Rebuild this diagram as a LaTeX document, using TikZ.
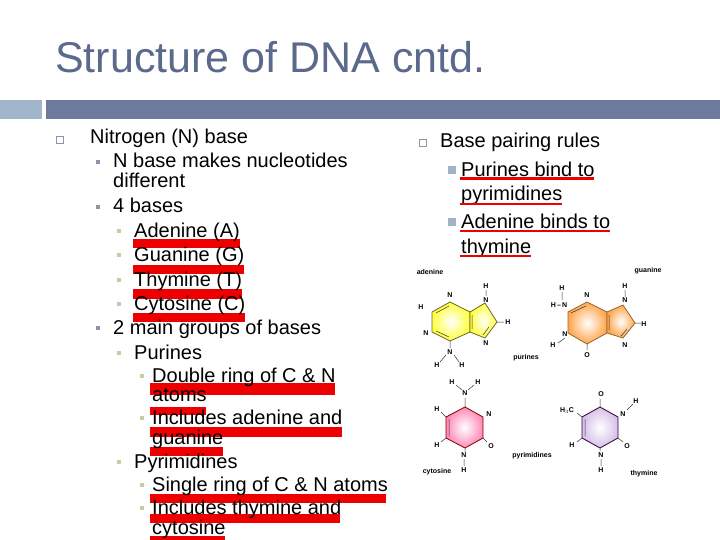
\documentclass[tikz,border=0pt]{standalone}
\usepackage{fontspec}
\setmainfont{Liberation Sans}
\usetikzlibrary{calc}
\definecolor{titlec}{HTML}{5B6A8C}
\definecolor{barlight}{HTML}{A2B6CB}
\definecolor{bardark}{HTML}{6E7A9C}
\definecolor{hl}{HTML}{EE0000}
\definecolor{bulg}{HTML}{8A96A8}
\definecolor{bult}{HTML}{CFC8A8}
\definecolor{bulr}{HTML}{A3B3C6}
\tikzset{
 txt/.style={anchor=base west,inner sep=0pt,font=\fontsize{20}{20}\selectfont},
 mol/.style={inner sep=0pt,font=\fontsize{7}{7}\selectfont\bfseries},
 lab/.style={inner sep=0pt,font=\fontsize{7}{7}\selectfont\bfseries},
 bar/.style={fill=hl,draw=none},
 uline/.style={draw=hl,line width=2.5pt},
 b2/.style={fill=bulg,draw=none,minimum size=4pt,inner sep=0pt},
 b3/.style={fill=bult,draw=none,minimum size=4pt,inner sep=0pt},
 bond/.style={draw=black!80,line width=0.5pt},
}
\begin{document}
\begin{tikzpicture}[x=1pt,y=-1pt]
\useasboundingbox[fill=white] (0,0) rectangle (720,540);
\node[anchor=west,inner sep=0pt,text=titlec,font=\fontsize{43}{43}\selectfont] (title) at (55,57) {Structure of DNA cntd.};
\fill[barlight] (0,100) rectangle (42,119);
\fill[bardark] (46,100) rectangle (720,119);
% red highlight bars (left)
\fill[hl] (133,239) rectangle (240,248);
\fill[hl] (133,265) rectangle (244,274);
\fill[hl] (133,289) rectangle (242,299);
\fill[hl] (133,313) rectangle (245,322);
\fill[hl] (150,383) rectangle (335,395);
\fill[hl] (150,407) rectangle (206,415);
\fill[hl] (150,427) rectangle (342,437);
\fill[hl] (150,447) rectangle (223,456);
\fill[hl] (150,494) rectangle (386,503);
\fill[hl] (150,514) rectangle (340,523);
\fill[hl] (150,536) rectangle (225,540);
% left text
\draw[bulg,line width=0.6pt] (56,136) rectangle (63,143);
\node[txt] (t1) at (90,144) {Nitrogen (N) base};
\node[b2] (bb1) at (98,162) {};
\node[txt] (t2) at (113,168) {N base makes nucleotides};
\node[txt] (t3) at (113,188) {different};
\node[b2] (bb2) at (98,207) {};
\node[txt] (t4) at (113,213) {4 bases};
\node[b3] (c1) at (119,231) {};
\node[txt] (t5) at (134,237) {Adenine (A)};
\node[b3] (c2) at (119,255) {};
\node[txt] (t6) at (134,261) {Guanine (G)};
\node[b3] (c3) at (119,280) {};
\node[txt] (t7) at (134,286) {Thymine (T)};
\node[b3] (c4) at (119,304) {};
\node[txt] (t8) at (134,310) {Cytosine (C)};
\node[b2] (bb3) at (98,328) {};
\node[txt] (t9) at (113,334) {2 main groups of bases};
\node[b3] (c5) at (119,353) {};
\node[txt] (t10) at (134,359) {Purines};
\node[b3] (d1) at (142,376) {};
\node[txt] (t11) at (152,382) {Double ring of C \& N};
\node[txt] (t12) at (152,401) {atoms};
\node[b3] (d2) at (142,418) {};
\node[txt] (t13) at (152,424) {Includes adenine and};
\node[txt] (t14) at (152,444) {guanine};
\node[b3] (c6) at (119,462) {};
\node[txt] (t15) at (134,468) {Pyrimidines};
\node[b3] (d3) at (142,485) {};
\node[txt] (t16) at (152,491) {Single ring of C \& N atoms};
\node[b3] (d4) at (142,508) {};
\node[txt] (t17) at (152,514) {Includes thymine and};
\node[txt] (t18) at (152,534) {cytosine};
% right text
\draw[bulg,line width=0.6pt] (419,139) rectangle (426,146);
\node[txt] (r1) at (440,148) {Base pairing rules};
\fill[bulr] (448,166) rectangle (456,174);
\node[txt] (r2) at (461,177) {Purines bind to};
\node[txt] (r3) at (461,201) {pyrimidines};
\fill[bulr] (448,218) rectangle (456,226);
\node[txt] (r4) at (461,229) {Adenine binds to};
\node[txt] (r5) at (461,253) {thymine};
\draw[uline] (460,178.5) -- (594,178.5);
\draw[uline] (460,204) -- (562,204);
\draw[uline] (460,231) -- (610,231);
\draw[uline] (460,256) -- (531,256);
% ---------- molecules ----------
% adenine
\shade[inner color=white,outer color=yellow!75!white,draw=olive!70!black,line width=0.8pt]
 (450,302) -- (432,312) -- (432,332) -- (450,341) -- (470,332) -- (470,312) -- cycle;
\shade[inner color=white,outer color=yellow!75!white,draw=olive!70!black,line width=0.8pt]
 (470,312) -- (485,303) -- (497,322) -- (485,338) -- (470,332) -- cycle;
\draw[bond] (436,313) -- (449,306) (436,331) -- (449,337) (489,327)--(483,335) (472,315)--(472,329);
\draw[bond] (450,341)--(450,348) (446,355)--(440,362) (454,355)--(459,362)
 (486,296)--(486,290) (497,322)--(504,322);
\node[mol] (aN1) at (450,295) {N};
\node[mol] (aH1) at (421,307) {H};
\node[mol] (aN2) at (426,333) {N};
\node[mol] (aN3) at (450,352) {N};
\node[mol] (aH2) at (437,365) {H};
\node[mol] (aH3) at (462,365) {H};
\node[mol] (aN4) at (486,300) {N};
\node[mol] (aH4) at (486,286) {H};
\node[mol] (aH5) at (508,322) {H};
\node[mol] (aN5) at (486,343) {N};
\node[lab] (aname) at (430,272) {adenine};
% guanine
\shade[inner color=white,outer color=orange!70!white,draw=brown!80!black,line width=0.8pt]
 (587,302) -- (568,312) -- (568,333) -- (587,344) -- (607,333) -- (607,312) -- cycle;
\shade[inner color=white,outer color=orange!70!white,draw=brown!80!black,line width=0.8pt]
 (607,312) -- (623,305) -- (635,323) -- (623,338) -- (607,333) -- cycle;
\draw[bond] (571,313)--(586,306) (627,329)--(621,336) (609,315)--(609,330);
\draw[bond] (587,344)--(587,350) (562,292)--(562,300) (635,323)--(641,323) (625,297)--(625,290) (565,338)--(558,343);
\node[mol] (gN1) at (587,295) {N};
\node[mol] (gHN) at (559,305) {H\,--\,N};
\node[mol] (gH0) at (562,288) {H};
\node[mol] (gN2) at (565,334) {N};
\node[mol] (gH1) at (553,345) {H};
\node[mol] (gO) at (587,355) {O};
\node[mol] (gN3) at (625,300) {N};
\node[mol] (gH2) at (625,286) {H};
\node[mol] (gH3) at (644,324) {H};
\node[mol] (gN4) at (625,345) {N};
\node[lab] (gname) at (648,271) {guanine};
\node[lab] (pur) at (526,358) {purines};
% cytosine
\shade[inner color=white,outer color=red!45!magenta!35!pink!90!white,draw=red!50!black,line width=0.8pt]
 (465,407) -- (483,417) -- (483,438) -- (465,448) -- (446,438) -- (446,417) -- cycle;
\draw[bond] (449,419)--(449,436) (465,407)--(465,398) (462,390)--(456,385) (468,390)--(474,385)
 (465,448)--(465,452) (464,459)--(464,466) (483,438)--(487,442) (446,417)--(441,412) (446,438)--(441,442);
\node[mol] (cN1) at (465,393) {N};
\node[mol] (cH1) at (452,382) {H};
\node[mol] (cH2) at (478,382) {H};
\node[mol] (cH3) at (437,409) {H};
\node[mol] (cN2) at (489,414) {N};
\node[mol] (cO) at (491,446) {O};
\node[mol] (cH4) at (437,445) {H};
\node[mol] (cN3) at (464,455) {N};
\node[mol] (cH5) at (464,470) {H};
\node[lab] (cname) at (437,472) {cytosine};
\node[lab] (pyr) at (532,456) {pyrimidines};
% thymine
\shade[inner color=white,outer color=blue!30!violet!25!white,draw=violet!40!black,line width=0.8pt]
 (600,407) -- (618,417) -- (618,438) -- (600,448) -- (582,438) -- (582,417) -- cycle;
\draw[bond] (585,419)--(585,436) (600,407)--(600,399) (618,438)--(623,442) (600,448)--(600,451)
 (601,459)--(601,466) (627,410)--(633,404) (582,417)--(577,413) (582,438)--(577,442);
\node[mol] (tO1) at (601,394) {O};
\node[mol] (tH1) at (636,401) {H};
\node[mol] (tN1) at (623,414) {N};
\node[mol] (tO2) at (627,446) {O};
\node[mol] (tH2) at (572,445) {H};
\node[mol] (tN2) at (601,455) {N};
\node[mol] (tH3) at (601,470) {H};
\node[mol] (tC) at (567,411) {H$_3$C};
\node[lab] (tname) at (644,474) {thymine};
\end{tikzpicture}
\end{document}
